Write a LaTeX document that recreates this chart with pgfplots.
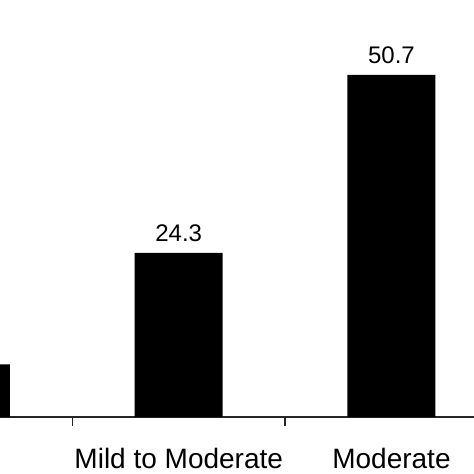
\documentclass[border=0pt]{standalone}
\usepackage{pgfplots}
\pgfplotsset{compat=1.18}
\usepackage{fontspec}
\setmainfont{Liberation Sans}
\begin{document}
\begin{tikzpicture}
\begin{axis}[
  scale only axis,
  width=474pt, height=474pt,
  xmin=0.1598, xmax=2.388,
  ymin=-8.44, ymax=61.78,
  axis x line=middle,
  axis y line=none,
  axis line style={-, line width=1.6pt, black!85},
  xtick={1,2},
  xticklabels={Mild to Moderate, Moderate},
  major tick length=0pt,
  minor xtick={0.5,1.5,2.5},
  minor tick length=9pt,
  tick align=outside,
  tick style={line width=1.5pt, black!85},
  xticklabel style={font=\fontsize{28}{30}\selectfont, anchor=north, inner sep=0pt, yshift=-31pt},
  ybar,
  bar width=0.4136,
  nodes near coords,
  /pgf/number format/assume math mode=true,
  every node near coord/.append style={font=\fontsize{24}{26}\selectfont, anchor=south, inner sep=0pt, yshift=11pt, /pgf/number format/fixed, /pgf/number format/precision=1, /pgf/number format/fixed zerofill, /pgf/number format/assume math mode=true},
  clip=true,
]
\addplot[fill=black, draw=none] coordinates {(0,7.8) (1,24.3) (2,50.7)};
\end{axis}
\pgfresetboundingbox
\path (current axis.south west) rectangle (current axis.north east);
\end{tikzpicture}
\end{document}
